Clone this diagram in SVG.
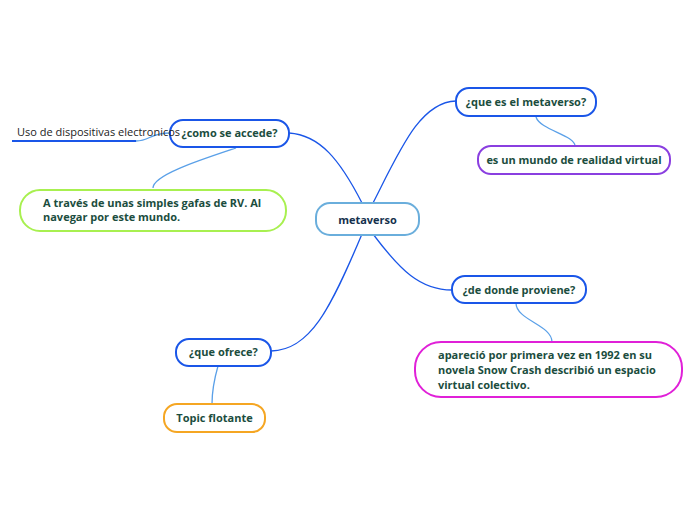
<svg xmlns="http://www.w3.org/2000/svg" width="696" height="520" viewBox="0 0 696 520">
<style>
text{font-family:"Open Sans","Noto Sans",sans-serif;font-weight:bold;fill:#1b4d3e;font-size:11px}
.n{fill:#fff;stroke-width:2}
.c{fill:none;stroke-width:1.3}
</style>
<g id="connectors">
<path class="c" stroke="#1a56e8" d="M362,203 C340,160 320,135 289,133"/>
<path class="c" stroke="#1a56e8" d="M373,203 C400,150 420,102 456,101"/>
<path class="c" stroke="#1a56e8" d="M373,234 C400,270 420,290 452,290"/>
<path class="c" stroke="#1a56e8" d="M362,234 C330,310 310,350 271,351"/>
<path class="c" stroke="#5aa0e8" d="M536,117 C540,130 575,135 575,146"/>
<path class="c" stroke="#5aa0e8" d="M516,303 C516,320 552,325 552,342"/>
<path class="c" stroke="#5aa0e8" d="M236,148 C200,160 153,175 153,188"/>
<path class="c" stroke="#5aa0e8" d="M218,366 C214,380 212,392 212,404"/>
<path class="c" stroke="#5aa0e8" d="M170,133 C150,133 150,141 136,141"/>
<path stroke="#1a56e8" stroke-width="2" d="M12,141 L136,141"/>
</g>
<g id="n-center"><rect class="n" stroke="#6aaedc" x="316" y="203" width="103" height="32" rx="14"/><text x="367.5" y="224" text-anchor="middle" font-size="13" fill="#14304d" style="fill:#14304d">metaverso</text></g>
<g id="n-que"><rect class="n" stroke="#1a56e8" x="456" y="88" width="140" height="28" rx="13"/><text x="526" y="106" text-anchor="middle">¿que es el metaverso?</text></g>
<g id="n-mundo"><rect class="n" stroke="#8a3fe0" x="478" y="146" width="192" height="28" rx="13"/><text x="574" y="164" text-anchor="middle">es un mundo de realidad virtual</text></g>
<g id="n-donde"><rect class="n" stroke="#1a56e8" x="452" y="276" width="134" height="27" rx="13"/><text x="519" y="294" text-anchor="middle">¿de donde proviene?</text></g>
<g id="n-aparecio"><rect class="n" stroke="#e020d8" x="415" y="342" width="267" height="55" rx="26"/><text x="438" y="359">apareció por primera vez en 1992 en su</text><text x="438" y="374">novela Snow Crash describió un espacio</text><text x="438" y="389">virtual colectivo.</text></g>
<g id="n-accede"><rect class="n" stroke="#1a56e8" x="170" y="120" width="119" height="27" rx="13"/><text x="229.5" y="137" text-anchor="middle">¿como se accede?</text></g>
<g id="n-uso"><text x="17" y="136" font-size="7.5" style="font-weight:normal;fill:#222">Uso de dispositivas electronicos</text></g>
<g id="n-gafas"><rect class="n" stroke="#a8f050" x="20" y="190" width="266" height="41" rx="20"/><text x="43" y="207">A través de unas simples gafas de RV. Al</text><text x="43" y="221">navegar por este mundo.</text></g>
<g id="n-ofrece"><rect class="n" stroke="#1a56e8" x="176" y="339" width="95" height="27" rx="13"/><text x="223.5" y="356" text-anchor="middle">¿que ofrece?</text></g>
<g id="n-topic"><rect class="n" stroke="#f5a623" x="164" y="404" width="101" height="28" rx="13"/><text x="214.5" y="422" text-anchor="middle">Topic flotante</text></g>
</svg>
